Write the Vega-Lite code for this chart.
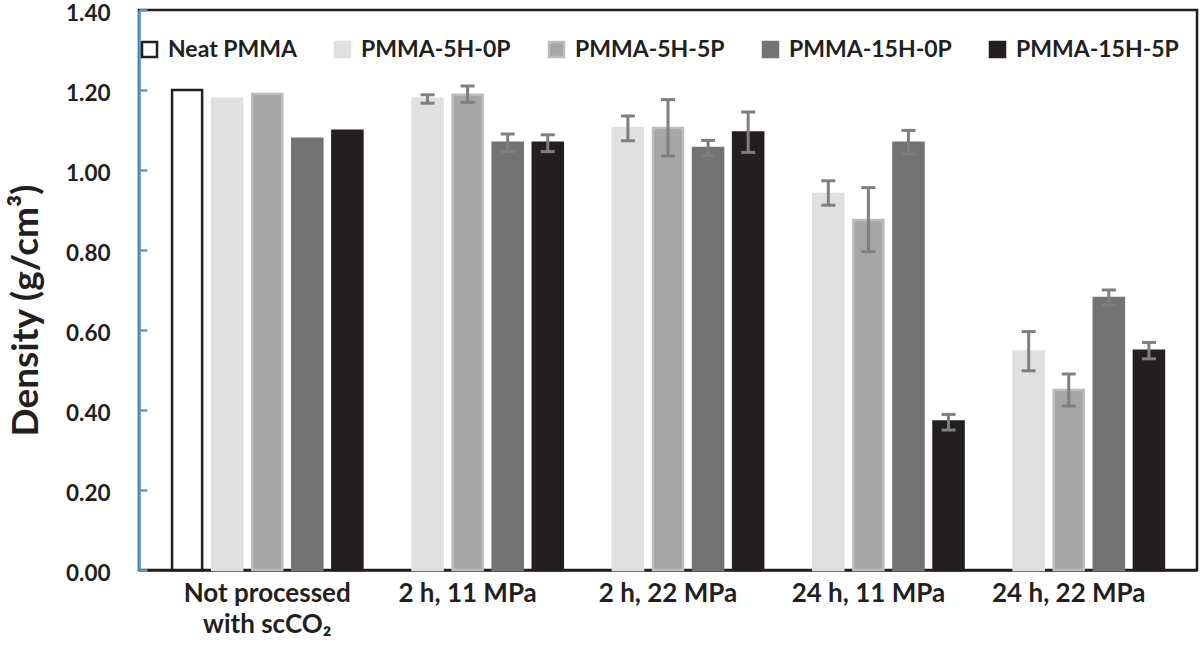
{
  "$schema": "https://vega.github.io/schema/vega-lite/v6.json",
  "width": 1058,
  "height": 560,
  "autosize": {"type": "none"},
  "padding": {"left": 139, "top": 10, "right": 3, "bottom": 81},
  "background": "white",
  "config": {"font": "Lato", "view": {"stroke": "#231F20", "strokeWidth": 2.5}},
  "data": {
    "values": [
      {"group": "Not processed with scCO₂", "series": "Neat PMMA", "density": 1.20, "lo": null, "hi": null},
      {"group": "Not processed with scCO₂", "series": "PMMA-5H-0P", "density": 1.178, "lo": null, "hi": null},
      {"group": "Not processed with scCO₂", "series": "PMMA-5H-5P", "density": 1.19, "lo": null, "hi": null},
      {"group": "Not processed with scCO₂", "series": "PMMA-15H-0P", "density": 1.078, "lo": null, "hi": null},
      {"group": "Not processed with scCO₂", "series": "PMMA-15H-5P", "density": 1.098, "lo": null, "hi": null},
      {"group": "2 h, 11 MPa", "series": "PMMA-5H-0P", "density": 1.178, "lo": 1.167, "hi": 1.188},
      {"group": "2 h, 11 MPa", "series": "PMMA-5H-5P", "density": 1.188, "lo": 1.169, "hi": 1.21},
      {"group": "2 h, 11 MPa", "series": "PMMA-15H-0P", "density": 1.068, "lo": 1.046, "hi": 1.09},
      {"group": "2 h, 11 MPa", "series": "PMMA-15H-5P", "density": 1.068, "lo": 1.046, "hi": 1.088},
      {"group": "2 h, 22 MPa", "series": "PMMA-5H-0P", "density": 1.105, "lo": 1.073, "hi": 1.135},
      {"group": "2 h, 22 MPa", "series": "PMMA-5H-5P", "density": 1.105, "lo": 1.035, "hi": 1.176},
      {"group": "2 h, 22 MPa", "series": "PMMA-15H-0P", "density": 1.055, "lo": 1.036, "hi": 1.074},
      {"group": "2 h, 22 MPa", "series": "PMMA-15H-5P", "density": 1.094, "lo": 1.044, "hi": 1.145},
      {"group": "24 h, 11 MPa", "series": "PMMA-5H-0P", "density": 0.94, "lo": 0.912, "hi": 0.973},
      {"group": "24 h, 11 MPa", "series": "PMMA-5H-5P", "density": 0.875, "lo": 0.796, "hi": 0.956},
      {"group": "24 h, 11 MPa", "series": "PMMA-15H-0P", "density": 1.068, "lo": 1.04, "hi": 1.099},
      {"group": "24 h, 11 MPa", "series": "PMMA-15H-5P", "density": 0.371, "lo": 0.35, "hi": 0.389},
      {"group": "24 h, 22 MPa", "series": "PMMA-5H-0P", "density": 0.546, "lo": 0.498, "hi": 0.596},
      {"group": "24 h, 22 MPa", "series": "PMMA-5H-5P", "density": 0.45, "lo": 0.41, "hi": 0.49},
      {"group": "24 h, 22 MPa", "series": "PMMA-15H-0P", "density": 0.68, "lo": 0.662, "hi": 0.7},
      {"group": "24 h, 22 MPa", "series": "PMMA-15H-5P", "density": 0.548, "lo": 0.528, "hi": 0.569}
    ]
  },
  "encoding": {
    "x": {
      "field": "group",
      "type": "nominal",
      "sort": ["Not processed with scCO₂", "2 h, 11 MPa", "2 h, 22 MPa", "24 h, 11 MPa", "24 h, 22 MPa"],
      "scale": {"paddingInner": 0, "paddingOuter": 0.14},
      "axis": {
        "title": null,
        "labelAngle": 0,
        "labelFont": "Lato",
        "labelFontSize": 26,
        "labelFontWeight": "bold",
        "labelColor": "#231F20",
        "labelPadding": 10,
        "labelBaseline": "top",
        "labelLineHeight": 31,
        "labelLimit": 300,
        "labelExpr": "datum.value == 'Not processed with scCO₂' ? ['Not processed', 'with scCO₂'] : datum.label",
        "ticks": false,
        "domainColor": "#231F20",
        "domainWidth": 2.5
      }
    },
    "xOffset": {
      "field": "series",
      "type": "nominal",
      "scale": {
        "domain": ["Neat PMMA", "PMMA-5H-0P", "PMMA-5H-5P", "PMMA-15H-0P", "PMMA-15H-5P"],
        "paddingInner": 0.25,
        "paddingOuter": 0.125
      }
    }
  },
  "layer": [
    {
      "mark": {"type": "bar", "strokeWidth": 2.5},
      "encoding": {
        "y": {
          "field": "density",
          "type": "quantitative",
          "title": "Density (g/cm³)",
          "scale": {"domain": [0, 1.4], "nice": false},
          "axis": {
            "values": [0, 0.2, 0.4, 0.6, 0.8, 1.0, 1.2, 1.4],
            "format": ".2f",
            "grid": false,
            "domainColor": "#5B9BD5",
            "domainWidth": 2.5,
            "tickColor": "#5B9BD5",
            "tickWidth": 2.5,
            "tickSize": -8,
            "labelPadding": 37,
            "labelOffset": 3,
            "labelFont": "Lato",
            "labelFontSize": 22.5,
            "labelFontWeight": "bold",
            "labelColor": "#231F20",
            "titleFont": "Lato",
            "titleFontSize": 37,
            "titleFontWeight": "bold",
            "titleColor": "#231F20",
            "titleX": -113,
            "titleY": 300,
            "titleAlign": "center",
            "titleBaseline": "middle"
          }
        },
        "fill": {
          "field": "series",
          "type": "nominal",
          "scale": {
            "domain": ["Neat PMMA", "PMMA-5H-0P", "PMMA-5H-5P", "PMMA-15H-0P", "PMMA-15H-5P"],
            "range": ["#FFFFFF", "#E0E0E0", "#A6A6A6", "#737373", "#231F20"]
          },
          "legend": {
            "orient": "none",
            "legendX": -1,
            "legendY": 28,
            "direction": "horizontal",
            "title": null,
            "symbolType": "square",
            "symbolSize": 225,
            "symbolStrokeWidth": 2.5,
            "labelFont": "Lato",
            "labelFontSize": 23,
            "labelFontWeight": "bold",
            "labelColor": "#231F20",
            "labelOffset": 7,
            "labelLimit": 300,
            "columnPadding": 33
          }
        },
        "stroke": {
          "field": "series",
          "type": "nominal",
          "scale": {
            "domain": ["Neat PMMA", "PMMA-5H-0P", "PMMA-5H-5P", "PMMA-15H-0P", "PMMA-15H-5P"],
            "range": ["#231F20", "#E0E0E0", "#BDBDBD", "#737373", "#231F20"]
          }
        }
      }
    },
    {
      "mark": {"type": "rule", "color": "#7F7F7F", "strokeWidth": 3},
      "encoding": {
        "y": {"field": "lo", "type": "quantitative", "title": "Density (g/cm³)"},
        "y2": {"field": "hi"}
      }
    },
    {
      "mark": {"type": "tick", "color": "#7F7F7F", "thickness": 3, "size": 14, "opacity": 1},
      "encoding": {
        "y": {"field": "lo", "type": "quantitative", "title": "Density (g/cm³)"}
      }
    },
    {
      "mark": {"type": "tick", "color": "#7F7F7F", "thickness": 3, "size": 14, "opacity": 1},
      "encoding": {
        "y": {"field": "hi", "type": "quantitative", "title": "Density (g/cm³)"}
      }
    }
  ]
}
